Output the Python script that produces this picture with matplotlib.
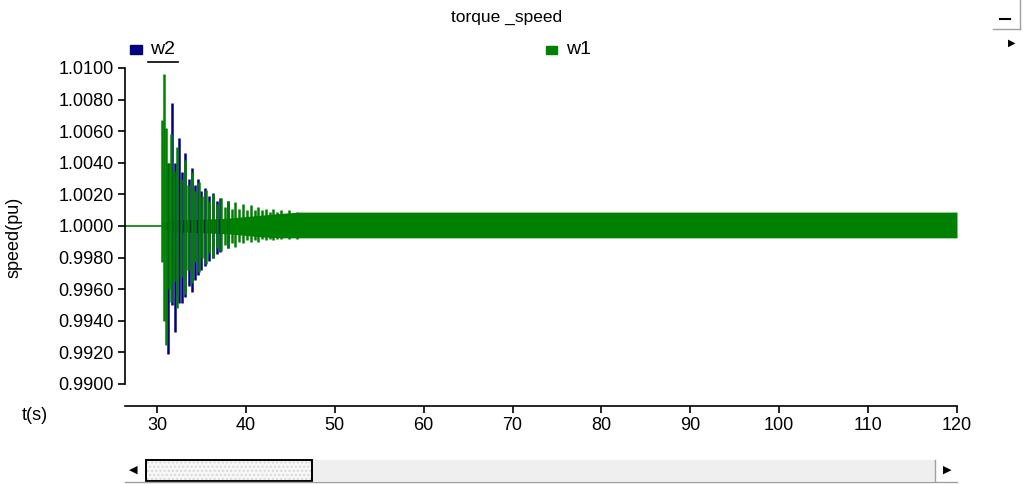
import matplotlib.pyplot as plt
from matplotlib.patches import Rectangle
from matplotlib.lines import Line2D

plt.rcParams['font.family'] = ['Liberation Sans', 'DejaVu Sans']

# flat part before the disturbance
t_flat = [26.4, 30.55]
w_flat = [1.0000, 1.0000]

# w2 oscillation stripes (time, low peak, high peak)
t_w2 = [31.2, 31.7, 32.0, 32.45, 32.8, 33.2, 33.6, 33.9, 34.3, 34.6, 35.0, 35.4, 35.8,
        36.3, 36.7, 37.1, 38.0]
w2_lo = [0.9919, 0.9950, 0.9933, 0.9951, 0.9951, 0.9955, 0.9962, 0.9958, 0.9966, 0.9969,
         0.9972, 0.9975, 0.9978, 0.9980, 0.9982, 0.99835, 0.9986]
w2_hi = [1.0040, 1.0078, 1.0040, 1.0056, 1.0034, 1.0046, 1.0030, 1.0037, 1.0026, 1.0030,
         1.0022, 1.0024, 1.0019, 1.0021, 1.0016, 1.0018, 1.0016]

# w1 oscillation stripes
t_w1 = [30.55, 30.8, 31.0, 31.3, 31.55, 31.9, 32.3, 32.7, 33.1, 33.5, 33.9, 34.3, 34.7,
        35.1, 35.5, 35.9, 36.3, 36.75, 37.2, 37.6, 38.0, 38.4, 38.8, 39.25, 39.7, 40.15,
        40.6, 41.0, 41.4, 41.85, 42.3, 42.7, 43.1, 43.55, 44.0, 44.9, 45.7]
w1_lo = [0.9977, 0.9940, 0.9925, 0.9960, 0.9952, 0.9965, 0.9948, 0.9968, 0.9957, 0.9972,
         0.9964, 0.9977, 0.9971, 0.9980, 0.9976, 0.9983, 0.9980, 0.9986, 0.9984, 0.9988,
         0.9986, 0.9989, 0.9987, 0.9990, 0.9989, 0.9991, 0.9990, 0.9991, 0.9990, 0.9992,
         0.9991, 0.9992, 0.9991, 0.9992, 0.9992, 0.9992, 0.9992]
w1_hi = [1.0067, 1.0096, 1.0062, 1.0040, 1.0058, 1.0035, 1.0050, 1.0030, 1.0042, 1.0026,
         1.0034, 1.0022, 1.0028, 1.0019, 1.0023, 1.0016, 1.0020, 1.0014, 1.0018, 1.0012,
         1.0016, 1.0011, 1.0015, 1.0011, 1.0014, 1.0010, 1.0013, 1.0010, 1.0012, 1.0010,
         1.0011, 1.0009, 1.0011, 1.0009, 1.0010, 1.0010, 1.0009]

# dense steady band (fast oscillation)
t_band = [30.6, 32.0, 34.0, 36.0, 38.0, 40.0, 42.0, 44.0, 46.0, 120.0]
band_lo = [0.9998, 0.99965, 0.9996, 0.99955, 0.9995, 0.9994, 0.9993, 0.99925, 0.99925, 0.99925]
band_hi = [1.0002, 1.0004, 1.0004, 1.00045, 1.0005, 1.0006, 1.0007, 1.0008, 1.00088, 1.00088]

yticks = [0.9900, 0.9920, 0.9940, 0.9960, 0.9980, 1.0000, 1.0020, 1.0040, 1.0060, 1.0080, 1.0100]
xticks = [30, 40, 50, 60, 70, 80, 90, 100, 110, 120]

blue = '#000080'
green = '#008000'

W, H = 1024, 484
fig = plt.figure(figsize=(W / 100, H / 100), dpi=100)
ax = fig.add_axes([125 / W, 1 - 384 / H, (957 - 125) / W, (384 - 68) / H])

ax.plot(t_flat, w_flat, color=green, lw=1.2)
ax.vlines(t_w2, w2_lo, w2_hi, color=blue, lw=1.8)
ax.fill_between(t_band, band_lo, band_hi, color=green, lw=0)
ax.vlines(t_w1, w1_lo, w1_hi, color=green, lw=1.8)

ax.set_xlim(26.4, 120)
ax.set_ylim(0.99, 1.01)
ax.set_yticks(yticks)
ax.set_yticklabels([f'{v:.4f}' for v in yticks])
ax.set_xticks(xticks)
for s in ['top', 'right']:
    ax.spines[s].set_visible(False)
ax.spines['bottom'].set_position(('outward', 15.5))
ax.tick_params(axis='both', labelsize=13, length=5, width=1.2, direction='out', pad=3)
ax.spines['left'].set_linewidth(1.2)
ax.spines['bottom'].set_linewidth(1.2)

fig.text(14 / W, 1 - 237 / H, 'speed(pu)', rotation=90, ha='center', va='center', fontsize=13)
fig.text(35 / W, 1 - 416 / H, 't(s)', ha='center', va='center', fontsize=13)
fig.text(507 / W, 1 - 17 / H, 'torque _speed', ha='center', va='center', fontsize=12.5)

# legend entries
fig.patches.append(Rectangle((130 / W, 1 - 54 / H), 12 / W, 9 / H, transform=fig.transFigure,
                             color=blue))
fig.text(150 / W, 1 - 50 / H, 'w2', ha='left', va='center', fontsize=14)
fig.lines.append(Line2D([148 / W, 178 / W], [1 - 62 / H, 1 - 62 / H], transform=fig.transFigure,
                        color='black', lw=1.2))
fig.patches.append(Rectangle((546 / W, 1 - 54 / H), 11 / W, 8 / H, transform=fig.transFigure,
                             color=green))
fig.text(566 / W, 1 - 50 / H, 'w1', ha='left', va='center', fontsize=14)

# window controls, top right
fig.lines.append(Line2D([993 / W, 1020 / W], [1 - 29 / H, 1 - 29 / H], transform=fig.transFigure,
                        color='#a0a0a0', lw=1))
fig.lines.append(Line2D([1020 / W, 1020 / W], [1 - 29 / H, 1.0], transform=fig.transFigure,
                        color='#a0a0a0', lw=1))
fig.lines.append(Line2D([1000 / W, 1010 / W], [1 - 19 / H, 1 - 19 / H], transform=fig.transFigure,
                        color='black', lw=1.5))
fig.text(1012 / W, 1 - 43 / H, '\u25b6', ha='center', va='center', fontsize=7, family='DejaVu Sans')

# scrollbar at the bottom
fig.patches.append(Rectangle((312 / W, 1 - 481 / H), (935 - 312) / W, 21 / H,
                             transform=fig.transFigure, color='#efefef', lw=0))
fig.patches.append(Rectangle((146 / W, 1 - 481 / H), (312 - 146) / W, 21 / H,
                             transform=fig.transFigure, facecolor='#f7f7f7', edgecolor='#d8d8d8',
                             lw=0, hatch='....'))
fig.patches.append(Rectangle((146 / W, 1 - 481 / H), (312 - 146) / W, 21 / H,
                             transform=fig.transFigure, fill=False, edgecolor='black', lw=1.4))
fig.lines.append(Line2D([125 / W, 957 / W], [1 - 482 / H, 1 - 482 / H], transform=fig.transFigure,
                        color='#a0a0a0', lw=1))
fig.lines.append(Line2D([935 / W, 935 / W], [1 - 481 / H, 1 - 460 / H], transform=fig.transFigure,
                        color='#a0a0a0', lw=1))
fig.text(133 / W, 1 - 470 / H, '\u25c0', ha='center', va='center', fontsize=8, family='DejaVu Sans')
fig.text(947 / W, 1 - 470 / H, '\u25b6', ha='center', va='center', fontsize=8, family='DejaVu Sans')

fig.savefig('out.png', dpi=100)
